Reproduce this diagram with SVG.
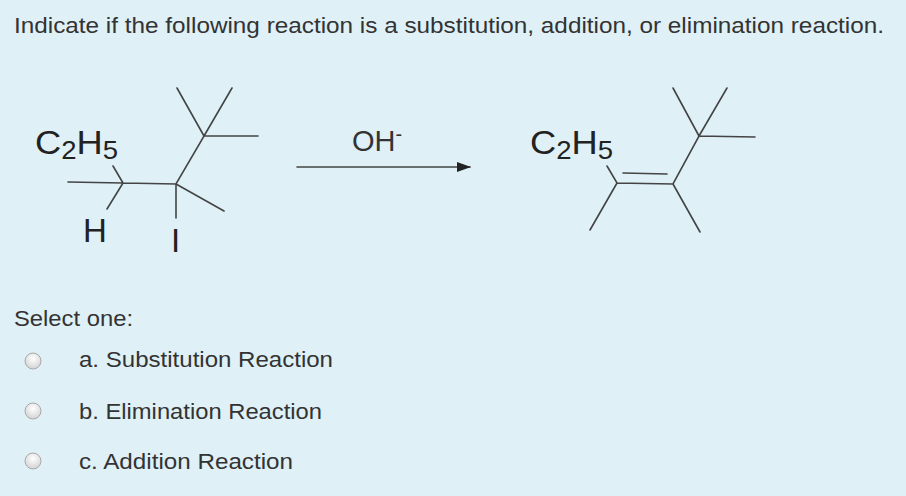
<svg xmlns="http://www.w3.org/2000/svg" width="906" height="496" viewBox="0 0 906 496">
<defs>
<style>
text{font-family:"Liberation Sans",Arial,sans-serif;fill:#333}
.b{stroke:#444;stroke-width:1.6;fill:none;stroke-linecap:round}
.f{font-size:33px;fill:#222}
.s{font-size:25px}
.o{font-size:22px}
</style>
<radialGradient id="rg" cx="0.5" cy="0.35" r="0.6"><stop offset="0" stop-color="#fff"/><stop offset="1" stop-color="#d6d6d6"/></radialGradient>
<marker id="ah" markerWidth="14" markerHeight="10" refX="13" refY="5" orient="auto" markerUnits="userSpaceOnUse"><path d="M0,0 L14,5 L0,10 Z" fill="#222"/></marker>
</defs>
<rect width="906" height="496" fill="#dff0f7"/>
<text x="14" y="33" font-size="22" textLength="870" lengthAdjust="spacingAndGlyphs">Indicate if the following reaction is a substitution, addition, or elimination reaction.</text>
<g id="reactant">
<path class="b" d="M68,182 L123,183 L176,184 L204,136 L258,136 M204,136 L177,88 M204,136 L232,88 M123,183 L113,166 M123,183 L107,209 M176,184 L224,211 M176,184 L176,218"/>
<text class="f" x="35" y="154" textLength="83" lengthAdjust="spacingAndGlyphs">C<tspan class="s" dy="5">2</tspan><tspan dy="-5">H</tspan><tspan class="s" dy="5">5</tspan></text>
<text class="f" x="83" y="242">H</text>
<text class="f" x="171" y="252">I</text>
</g>
<g id="connectors">
<line class="b" x1="297" y1="167" x2="470" y2="167" marker-end="url(#ah)"/>
<text x="352" y="151" font-size="29" fill="#222">OH<tspan font-size="20" dy="-10">-</tspan></text>
</g>
<g id="product">
<path class="b" d="M607,166 L617,183 L673,184 L699,136 L755,137 M699,136 L673,88 M699,136 L727,88 M617,183 L590,230 M673,184 L700,232 M623,173 L667,174"/>
<text class="f" x="530" y="154" textLength="83" lengthAdjust="spacingAndGlyphs">C<tspan class="s" dy="5">2</tspan><tspan dy="-5">H</tspan><tspan class="s" dy="5">5</tspan></text>
</g>
<text x="14" y="326" font-size="22" textLength="119" lengthAdjust="spacingAndGlyphs">Select one:</text>
<g id="options">
<circle cx="33" cy="361" r="8" fill="url(#rg)" stroke="#aaa"/>
<text class="o" x="79" y="367" textLength="254" lengthAdjust="spacingAndGlyphs">a. Substitution Reaction</text>
<circle cx="33" cy="411" r="8" fill="url(#rg)" stroke="#aaa"/>
<text class="o" x="79" y="419" textLength="243" lengthAdjust="spacingAndGlyphs">b. Elimination Reaction</text>
<circle cx="33" cy="461" r="8" fill="url(#rg)" stroke="#aaa"/>
<text class="o" x="79" y="469" textLength="214" lengthAdjust="spacingAndGlyphs">c. Addition Reaction</text>
</g>
</svg>
